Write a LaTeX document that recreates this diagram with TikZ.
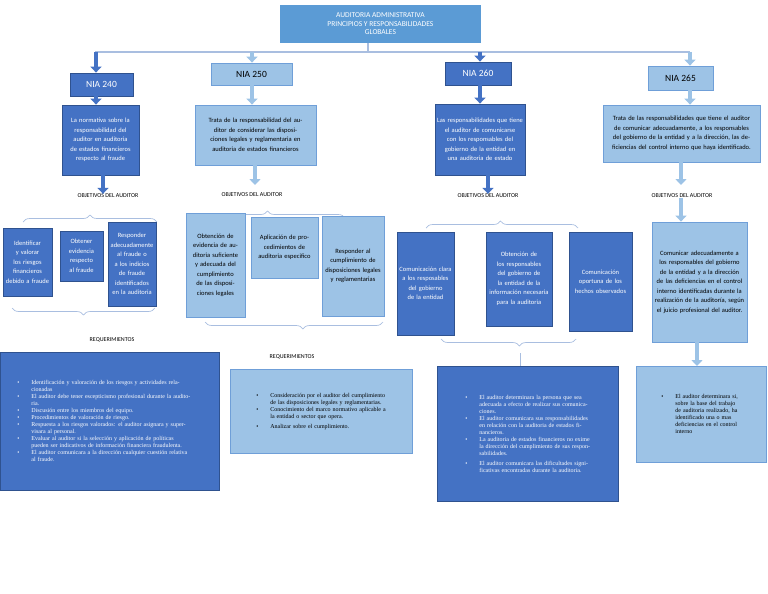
\documentclass[tikz,border=0pt]{standalone}
\usepackage{fontspec}
\setmainfont{Liberation Serif}
\newfontfamily\boxf{Carlito}
\usetikzlibrary{arrows.meta,decorations.pathreplacing}
\definecolor{dk}{HTML}{4472C4}
\definecolor{dkb}{HTML}{2F528F}
\definecolor{lt}{HTML}{9DC3E6}
\definecolor{ltb}{HTML}{6F9FD8}
\definecolor{md}{HTML}{5B9BD5}
\definecolor{br}{HTML}{A9BEE0}
\newcommand\bul[1]{\par\hangindent=14pt\hangafter=1\noindent\makebox[14pt][l]{\textbullet}#1}
\tikzset{
  bx/.style={draw, line width=0.8pt, align=center, inner sep=2pt, font=\boxf\fontsize{6.5}{9.5}\selectfont},
  dbox/.style={bx, fill=dk, draw=dkb, text=white},
  lbox/.style={bx, fill=lt, draw=ltb, text=black},
  nia/.style={font=\boxf\fontsize{9.5}{11}\selectfont},
  lab/.style={font=\boxf\fontsize{6}{7}\selectfont, inner sep=0pt},
  darr/.style={line width=4.5pt, dk, -{Triangle[width=11pt,length=6pt]}},
  larr/.style={line width=4.5pt, lt, -{Triangle[width=11pt,length=6pt]}},
  brc/.style={draw=br, line width=0.7pt, decorate, decoration={brace, amplitude=7pt}},
  req/.style={draw, line width=0.8pt, align=left, inner xsep=0pt, font=\fontsize{6}{7}\selectfont},
}
\begin{document}
\begin{tikzpicture}[x=1pt,y=-1pt]
\useasboundingbox (0,0) rectangle (768,594);
% title
\node[bx, fill=md, draw=md, text=white, minimum width=200pt, minimum height=37pt, anchor=north west, font=\boxf\fontsize{7.5}{8.5}\selectfont] (title) at (280,5) {AUDITORIA ADMINISTRATIVA\\PRINCIPIOS Y RESPONSABILIDADES\\GLOBALES};
\coordinate (hl) at (95,52); \coordinate (hr) at (690,52); \coordinate (hm) at (368,52);
\draw[br, line width=1.2pt] (title.south -| hm) -- (hm);
\draw[br, line width=1.2pt] (hl) -- (hr);
% NIA boxes
\node[dbox, nia, minimum width=63pt, minimum height=23pt] (n240) at (101.5,84.5) {NIA 240};
\node[lbox, nia, minimum width=81pt, minimum height=22pt] (n250) at (251.5,74) {NIA 250};
\node[dbox, nia, minimum width=66pt, minimum height=23pt] (n260) at (478,73.5) {NIA 260};
\node[lbox, nia, minimum width=65pt, minimum height=24pt] (n265) at (680.5,78) {NIA 265};
\coordinate (a1) at (96,52); \coordinate (a2) at (252,52); \coordinate (a3) at (480,52); \coordinate (a4) at (690,52);
\draw[darr] (a1) -- (a1 |- n240.north);
\draw[larr] (a2) -- (a2 |- n250.north);
\draw[darr] (a3) -- (a3 |- n260.north);
\draw[larr] (a4) -- (a4 |- n265.north);
% descriptions
\node[dbox, text width=73pt, minimum height=70pt] (d240) at (100.5,140) {La normativa sobre la responsabilidad del auditor en auditoria de estados financieros respecto al fraude};
\node[lbox, text width=117pt, minimum height=60pt] (d250) at (255.5,135) {Trata de la responsabilidad del auditor de considerar las disposiciones legales y reglamentaria en auditoria de estados financieros};
\node[dbox, text width=86pt, minimum height=71pt] (d260) at (480,139.5) {Las responsabilidades que tiene el auditor de comunicarse con los responsables del gobierno de la entidad en una auditoria de estado};
\node[lbox, text width=153pt, minimum height=57pt] (d265) at (681.5,133.5) {Trata de las responsabilidades que tiene el auditor de comunicar adecuadamente, a los responsables del gobierno de la entidad y a la dirección, las deficiencias del control interno que haya identificado.};
\draw[darr] (n240.south -| 96,0) -- (d240.north -| 96,0);
\draw[larr] (n250.south -| 252,0) -- (d250.north -| 252,0);
\draw[darr] (n260.south -| 480,0) -- (d260.north -| 480,0);
\draw[larr] (n265.south -| 690,0) -- (d265.north -| 690,0);
% objetivos labels
\node[lab] (o240) at (108,196) {OBJETIVOS DEL AUDITOR};
\node[lab] (o250) at (252,195) {OBJETIVOS DEL AUDITOR};
\node[lab] (o260) at (488,196) {OBJETIVOS DEL AUDITOR};
\node[lab] (o265) at (682,196) {OBJETIVOS DEL AUDITOR};
\draw[darr] (d240.south -| 103,0) -- (o240.north -| 103,0);
\draw[larr] (d250.south -| 255,0) -- (255,185);
\draw[darr] (d260.south -| 488,0) -- (o260.north -| 488,0);
\draw[larr] (d265.south -| 681,0) -- (681,185);
% top braces
\draw[brc, decoration={aspect=0.5}] (23,222) -- (157,222);
\draw[brc, decoration={aspect=0.5}] (190,218) -- (345,218);
\draw[brc, decoration={aspect=0.49}] (426,228) -- (578,228);
% objective boxes 240
\node[dbox, text width=45pt, minimum height=68pt] (b1) at (27.5,262) {Identificar y valorar los riesgos financieros debido a fraude};
\node[dbox, text width=39pt, minimum height=50pt] (b2) at (81.5,256) {Obtener evidencia respecto al fraude};
\node[dbox, text width=44pt, minimum height=84pt] (b3) at (132,264) {Responder adecuadamente al fraude o a los indicios de fraude identificados en la auditoria};
% 250
\node[lbox, text width=55pt, minimum height=104pt] (c1) at (215.5,265) {Obtención de evidencia de auditoria suficiente y adecuada del cumplimiento de las disposiciones legales};
\node[lbox, text width=63pt, minimum height=61pt] (c2) at (284.5,247.5) {Aplicación de procedimientos de auditoria especifico};
\node[lbox, text width=58pt, minimum height=100pt] (c3) at (353,266) {Responder al cumplimiento de disposiciones legales y reglamentarias};
% 260
\node[dbox, text width=53pt, minimum height=103pt] (e1) at (425.5,283.5) {Comunicación clara a los resposables del gobierno de la entidad};
\node[dbox, text width=62pt, minimum height=94pt] (e2) at (519,279) {Obtención de los responsables del gobierno de la entidad de la información necesaria para la auditoria};
\node[dbox, text width=59pt, minimum height=99pt] (e3) at (600.5,281.5) {Comunicación oportuna de los hechos observados};
% 265
\node[lbox, text width=91pt, minimum height=120pt] (f1) at (699.5,282) {Comunicar adecuadamente a los responsables del gobierno de la entidad y a la dirección de las deficiencias en el control interno identificadas durante la realización de la auditoría, según el juicio profesional del auditor.};
\draw[larr] (o265.south -| 681,0) -- (f1.north -| 681,0);
% bottom braces
\draw[brc, decoration={aspect=0.5}] (155,308) -- (12,308);
\draw[brc, decoration={aspect=0.45}] (383,322) -- (205,322);
\draw[brc, decoration={aspect=0.42}] (576,339) -- (441,339);
\node[lab] (r240) at (112,340) {REQUERIMIENTOS};
\node[lab] (r250) at (292,357) {REQUERIMIENTOS};
% requirement boxes
\node[req, fill=dk, draw=dkb, text=white, anchor=north west, minimum width=219pt, minimum height=138pt, text width=185pt, inner xsep=0pt] (q240) at (0,352) {\hspace*{0pt}\parbox[t]{175pt}{\leftskip=0pt
\bul{Identificación y valoración de los riesgos y actividades relacionadas}
\bul{El auditor debe tener escepticismo profesional durante la auditoria.}
\bul{Discusión entre los miembros del equipo.}
\bul{Procedimientos de valoración de riesgo.}
\bul{Respuesta a los riesgos valorados: el auditor asignara y supervisara al personal.}
\bul{Evaluar al auditor si la selección y aplicación de políticas pueden ser indicativos de información financiera fraudulenta.}
\bul{El auditor comunicara a la dirección cualquier cuestión relativa al fraude.}}};
\node[req, fill=lt, draw=ltb, anchor=north west, minimum width=182pt, minimum height=84pt, text width=130pt] (q250) at (230,369) {\parbox[t]{130pt}{
\bul{Consideración por el auditor del cumplimiento de las disposiciones legales y reglamentarias.}
\bul{Conocimiento del marco normativo aplicable a la entidad o sector que opera.}\vspace{3pt}
\bul{Analizar sobre el cumplimiento.}}};
\node[req, fill=dk, draw=dkb, text=white, anchor=north west, minimum width=181pt, minimum height=135pt, text width=125pt] (q260) at (437,366) {\parbox[t]{125pt}{
\bul{El auditor determinara la persona que sea adecuada a efecto de realizar sus comunicaciones.}
\bul{El auditor comunicara sus responsabilidades en relación con la auditoria de estados financieros.}
\bul{La auditoria de estados financieros no exime la dirección del cumplimiento de sus responsabilidades.}\vspace{3pt}
\bul{El auditor comunicara las dificultades significativas encontradas durante la auditoria.}}};
\node[req, fill=lt, draw=ltb, anchor=north west, minimum width=130pt, minimum height=96pt, text width=80pt] (q265) at (636,366) {\parbox[t]{80pt}{
\bul{El auditor determinara si, sobre la base del trabajo de auditoria realizado, ha identificado una o mas deficiencias en el control interno}}};
\coordinate (p260) at (520,353);
\draw[br, line width=0.7pt] (p260) -- (p260 |- q260.north);
\draw[larr] (f1.south -| 697,0) -- (q265.north -| 697,0);
\end{tikzpicture}
\end{document}
